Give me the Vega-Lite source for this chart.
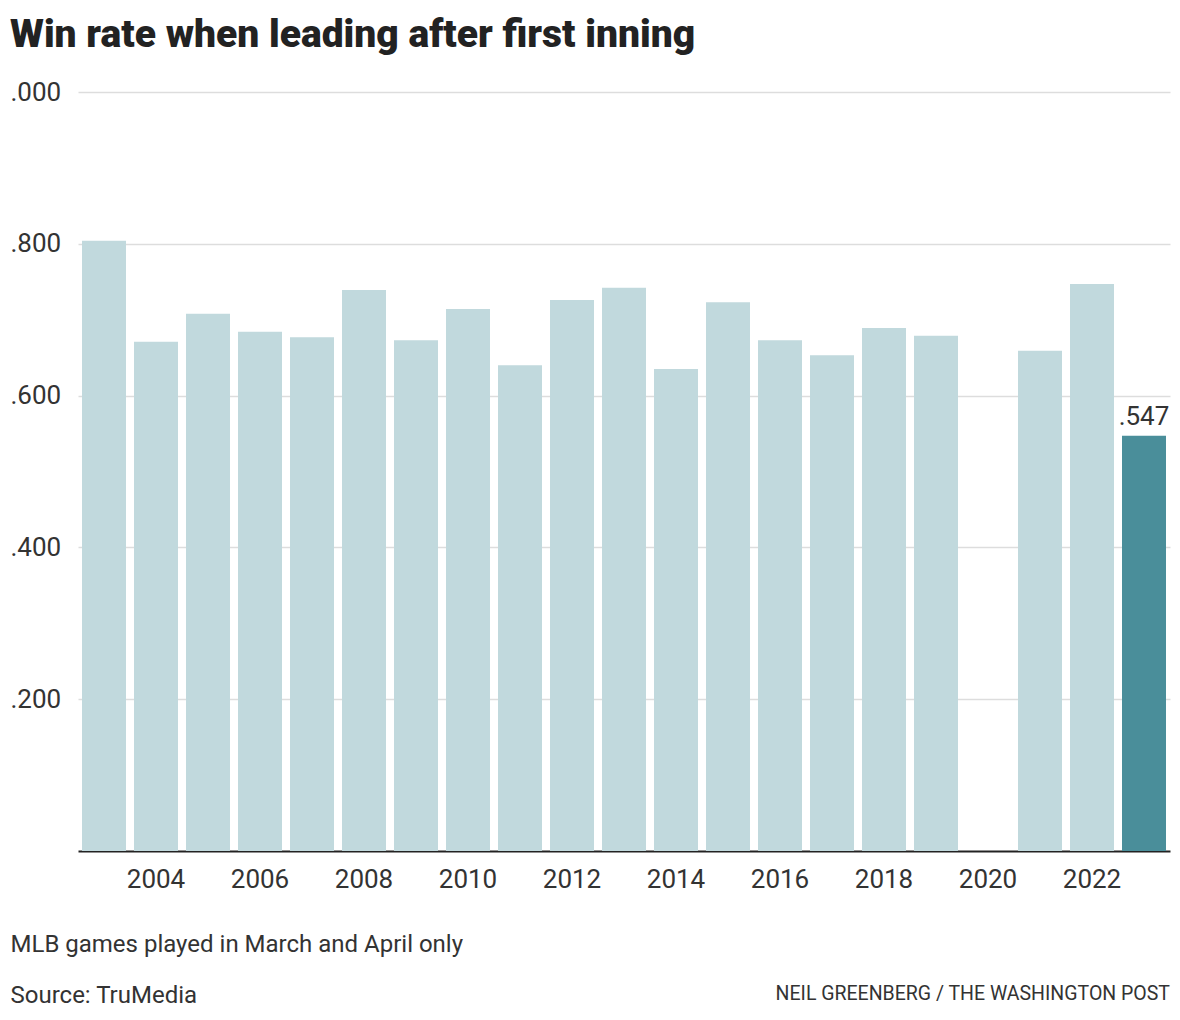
{
  "$schema": "https://vega.github.io/schema/vega-lite/v6.json",
  "autosize": {"type": "none"},
  "padding": {"left": 78, "top": 92, "right": 10, "bottom": 169},
  "width": 1092,
  "height": 759,
  "background": "white",
  "config": {
    "view": {"stroke": "transparent"},
    "font": "Roboto",
    "text": {"font": "Roboto"}
  },
  "title": {
    "text": "Win rate when leading after first inning",
    "anchor": "start",
    "frame": "bounds",
    "font": "Roboto",
    "fontSize": 39,
    "fontWeight": 900,
    "color": "#222222",
    "offset": 24
  },
  "data": {
    "values": [
      {"year": 2003, "rate": 0.804},
      {"year": 2004, "rate": 0.671},
      {"year": 2005, "rate": 0.708},
      {"year": 2006, "rate": 0.684},
      {"year": 2007, "rate": 0.677},
      {"year": 2008, "rate": 0.739},
      {"year": 2009, "rate": 0.673},
      {"year": 2010, "rate": 0.714},
      {"year": 2011, "rate": 0.640},
      {"year": 2012, "rate": 0.726},
      {"year": 2013, "rate": 0.742},
      {"year": 2014, "rate": 0.635},
      {"year": 2015, "rate": 0.723},
      {"year": 2016, "rate": 0.673},
      {"year": 2017, "rate": 0.653},
      {"year": 2018, "rate": 0.689},
      {"year": 2019, "rate": 0.679},
      {"year": 2021, "rate": 0.659},
      {"year": 2022, "rate": 0.747},
      {"year": 2023, "rate": 0.547}
    ]
  },
  "layer": [
    {
      "mark": {"type": "bar"},
      "encoding": {
        "x": {
          "field": "year",
          "type": "ordinal",
          "scale": {
            "domain": [2003, 2004, 2005, 2006, 2007, 2008, 2009, 2010, 2011, 2012, 2013, 2014, 2015, 2016, 2017, 2018, 2019, 2020, 2021, 2022, 2023],
            "paddingInner": 0.154,
            "paddingOuter": 0.077
          },
          "axis": {
            "values": [2004, 2006, 2008, 2010, 2012, 2014, 2016, 2018, 2020, 2022],
            "labelAngle": 0,
            "labelFontSize": 26,
            "labelColor": "#333333",
            "labelPadding": 15,
            "ticks": false,
            "tickSize": 0,
            "domainColor": "#222222",
            "domainWidth": 2,
            "title": ["MLB games played in March and April only", "Source: TruMedia"],
            "titleX": -68,
            "titleY": 100,
            "titleAlign": "left",
            "titleAnchor": "start",
            "titleBaseline": "alphabetic",
            "titleLineHeight": 51,
            "titleFontSize": 24,
            "titleFontWeight": "normal",
            "titleColor": "#333333"
          }
        },
        "y": {
          "field": "rate",
          "type": "quantitative",
          "scale": {"domain": [0, 1], "nice": false},
          "axis": {
            "values": [0.2, 0.4, 0.6, 0.8, 1.0],
            "labelExpr": "substring(format(datum.value, '.3f'), 1)",
            "labelAlign": "left",
            "labelBaseline": "middle",
            "labelPadding": 68,
            "labelFontSize": 26,
            "labelColor": "#333333",
            "ticks": false,
            "tickSize": 0,
            "domain": false,
            "grid": true,
            "gridColor": "#dddddd",
            "gridWidth": 1.5,
            "title": null
          }
        },
        "color": {
          "condition": {"test": "datum.year === 2023", "value": "#4a8e9a"},
          "value": "#c1d9dd"
        }
      }
    },
    {
      "transform": [
        {"filter": "datum.year === 2023"},
        {"calculate": "substring(format(datum.rate, '.3f'), 1)", "as": "label"}
      ],
      "mark": {"type": "text", "fontSize": 26, "color": "#333333", "baseline": "bottom", "dy": -6},
      "encoding": {
        "x": {"field": "year", "type": "ordinal"},
        "y": {"field": "rate", "type": "quantitative"},
        "text": {"field": "label", "type": "nominal"}
      }
    },
    {
      "data": {"values": [{"credit": "NEIL GREENBERG / THE WASHINGTON POST"}]},
      "mark": {"type": "text", "x": {"expr": "width"}, "y": {"expr": "height + 143"}, "align": "right", "baseline": "middle", "fontSize": 19.5, "color": "#333333"},
      "encoding": {"text": {"field": "credit", "type": "nominal"}}
    }
  ]
}
